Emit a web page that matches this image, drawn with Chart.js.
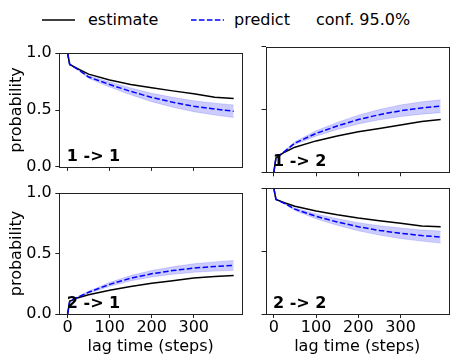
<!DOCTYPE html>
<html>
<head>
<meta charset="utf-8">
<script src="https://cdn.jsdelivr.net/npm/chart.js@4.4.1/dist/chart.umd.min.js"></script>
<style>
  body { margin: 0; background: #fff; }
  #wrap { position: relative; width: 456px; height: 362px; overflow: hidden; font-family: 'DejaVu Sans', sans-serif; }
  canvas { position: absolute; }
  .leg { position: absolute; font-size: 16px; line-height: 16px; color: #000; white-space: nowrap; }
</style>
</head>
<body>
<div id="wrap">
  <svg class="leg" style="left:42px; top:15px" width="33" height="10"><line x1="0" y1="5" x2="33" y2="5" stroke="#000" stroke-width="1.5"/></svg>
  <span class="leg" style="left:88px; top:12px">estimate</span>
  <svg class="leg" style="left:191px; top:15px" width="33" height="10"><line x1="0" y1="5" x2="33" y2="5" stroke="#0000ff" stroke-width="1.5" stroke-dasharray="5.55 2.4"/></svg>
  <span class="leg" style="left:234px; top:12px">predict</span>
  <span class="leg" style="left:316px; top:12px">conf. 95.0%</span>

  <canvas id="p11" width="250" height="140" style="left:0; top:40px"></canvas>
  <canvas id="p12" width="206" height="140" style="left:250px; top:40px"></canvas>
  <canvas id="p21" width="250" height="182" style="left:0; top:180px"></canvas>
  <canvas id="p22" width="206" height="182" style="left:250px; top:180px"></canvas>
</div>
<script>
// data
const lagSteps = [0, 5, 25, 50, 100, 150, 200, 250, 300, 350, 395];
const xTicks = [0, 100, 200, 300];
const yTicks = [0, 0.5, 1.0];

// 1 -> 1
const est11  = [1.0, 0.90, 0.862, 0.815, 0.763, 0.725, 0.695, 0.668, 0.643, 0.613, 0.600];
const pred11 = [1.0, 0.90, 0.855, 0.790, 0.724, 0.664, 0.610, 0.568, 0.533, 0.508, 0.489];
const low11  = [1.0, 0.90, 0.849, 0.778, 0.702, 0.634, 0.573, 0.525, 0.485, 0.456, 0.434];
const high11 = [1.0, 0.90, 0.861, 0.802, 0.746, 0.694, 0.647, 0.611, 0.581, 0.560, 0.544];

// 1 -> 2
const est12  = [0.0, 0.115, 0.160, 0.200, 0.250, 0.289, 0.322, 0.348, 0.376, 0.405, 0.420];
const pred12 = [0.0, 0.115, 0.165, 0.233, 0.309, 0.369, 0.420, 0.459, 0.490, 0.512, 0.527];
const low12  = [0.0, 0.115, 0.159, 0.222, 0.288, 0.341, 0.385, 0.418, 0.444, 0.463, 0.475];
const high12 = [0.0, 0.115, 0.171, 0.244, 0.330, 0.397, 0.455, 0.500, 0.536, 0.561, 0.577];

// 2 -> 1
const est21  = [0.0, 0.106, 0.135, 0.160, 0.197, 0.228, 0.255, 0.276, 0.297, 0.310, 0.319];
const pred21 = [0.0, 0.106, 0.140, 0.180, 0.245, 0.296, 0.333, 0.359, 0.380, 0.393, 0.402];
const low21  = [0.0, 0.106, 0.136, 0.171, 0.229, 0.274, 0.306, 0.328, 0.345, 0.355, 0.361];
const high21 = [0.0, 0.106, 0.144, 0.189, 0.261, 0.318, 0.360, 0.390, 0.415, 0.431, 0.443];

// 2 -> 2
const est22  = [1.0, 0.912, 0.885, 0.857, 0.820, 0.790, 0.764, 0.742, 0.722, 0.700, 0.694];
const pred22 = [1.0, 0.912, 0.880, 0.834, 0.777, 0.732, 0.694, 0.665, 0.642, 0.624, 0.612];
const low22  = [1.0, 0.912, 0.875, 0.824, 0.758, 0.706, 0.662, 0.628, 0.600, 0.580, 0.564];
const high22 = [1.0, 0.912, 0.885, 0.844, 0.796, 0.758, 0.726, 0.702, 0.684, 0.668, 0.660];

Chart.defaults.font.family = "'DejaVu Sans', sans-serif";
Chart.defaults.font.size = 16;
Chart.defaults.color = '#000';

function toPoints(ys) {
    return lagSteps.map((x, i) => ({ x: x, y: ys[i] }));
}

// label "1 -> 1" di pojok kiri bawah
function panelLabel(text) {
    return {
        id: 'panelLabel',
        afterDatasetsDraw(chart) {
            const a = chart.chartArea;
            const ctx = chart.ctx;
            ctx.save();
            ctx.font = "bold 16px 'DejaVu Sans'";
            ctx.fillStyle = '#000';
            ctx.textBaseline = 'alphabetic';
            ctx.fillText(text, a.left + 7.5, a.bottom - 6);
            ctx.restore();
        }
    };
}

// bingkai kotak sumbu
const framePlugin = {
    id: 'frame',
    afterDraw(chart) {
        const a = chart.chartArea;
        const ctx = chart.ctx;
        ctx.save();
        ctx.strokeStyle = '#222';
        ctx.lineWidth = 1;
        ctx.strokeRect(Math.round(a.left) + 0.5, Math.round(a.top) + 0.5,
            Math.round(a.right) - Math.round(a.left), Math.round(a.bottom) - Math.round(a.top));
        ctx.restore();
    }
};

function makePanel(id, text, est, pred, low, high, cfg) {
    const ctx = document.getElementById(id).getContext('2d');
    new Chart(ctx, {
        type: 'line',
        data: {
            datasets: [
                { label: 'predict', data: toPoints(pred), borderColor: '#0000ff', borderWidth: 1.5,
                  borderDash: [5.55, 2.4], pointRadius: 0, fill: false },
                { label: 'estimate', data: toPoints(est), borderColor: '#000', borderWidth: 1.5,
                  pointRadius: 0, fill: false },
                { label: 'low', data: toPoints(low), borderColor: 'rgba(0,0,255,0.15)', borderWidth: 1,
                  pointRadius: 0, fill: false },
                { label: 'high', data: toPoints(high), borderColor: 'rgba(0,0,255,0.15)', borderWidth: 1,
                  pointRadius: 0, fill: '-1', backgroundColor: 'rgba(0,0,255,0.2)' }
            ]
        },
        options: {
            responsive: false,
            animation: false,
            devicePixelRatio: 1,
            layout: { padding: { top: cfg.top, right: cfg.right, left: 0, bottom: 0 } },
            plugins: { legend: { display: false }, tooltip: { enabled: false } },
            scales: {
                x: {
                    type: 'linear', min: -19.75, max: 414.75,
                    afterBuildTicks: (axis) => { axis.ticks = xTicks.map(v => ({ value: v })); },
                    afterFit: (axis) => { axis.height = cfg.xHeight; },
                    grid: { drawOnChartArea: false, drawTicks: true, tickLength: 4, color: '#222', lineWidth: 1 },
                    border: { display: false },
                    ticks: { display: cfg.showX, padding: 0, maxRotation: 0, autoSkip: false },
                    title: { display: cfg.showX, text: 'lag time (steps)', padding: { top: 0, bottom: 5.5 } }
                },
                y: {
                    min: 0, max: 1,
                    afterBuildTicks: (axis) => { axis.ticks = yTicks.map(v => ({ value: v })); },
                    afterFit: (axis) => { axis.width = cfg.yWidth; },
                    grid: { drawOnChartArea: false, drawTicks: true, tickLength: 4, color: '#222', lineWidth: 1 },
                    border: { display: false },
                    ticks: { display: cfg.showY, padding: 3.5, callback: (v) => Number(v).toFixed(1) },
                    title: { display: cfg.showY, text: 'probability', padding: { top: 7, bottom: 0 } }
                }
            }
        },
        plugins: [framePlugin, panelLabel(text)]
    });
}

makePanel('p11', '1 -> 1', est11, pred11, low11, high11,
    { top: 6.7, right: 8, yWidth: 59.3, xHeight: 7.7, showX: false, showY: true });
makePanel('p12', '1 -> 2', est12, pred12, low12, high12,
    { top: 6.7, right: 7, yWidth: 15.5, xHeight: 7.7, showX: false, showY: false });
makePanel('p21', '2 -> 1', est21, pred21, low21, high21,
    { top: 8.3, right: 8, yWidth: 59.3, xHeight: 48, showX: true, showY: true });
makePanel('p22', '2 -> 2', est22, pred22, low22, high22,
    { top: 8.3, right: 7, yWidth: 15.5, xHeight: 48, showX: true, showY: false });
</script>
</body>
</html>
